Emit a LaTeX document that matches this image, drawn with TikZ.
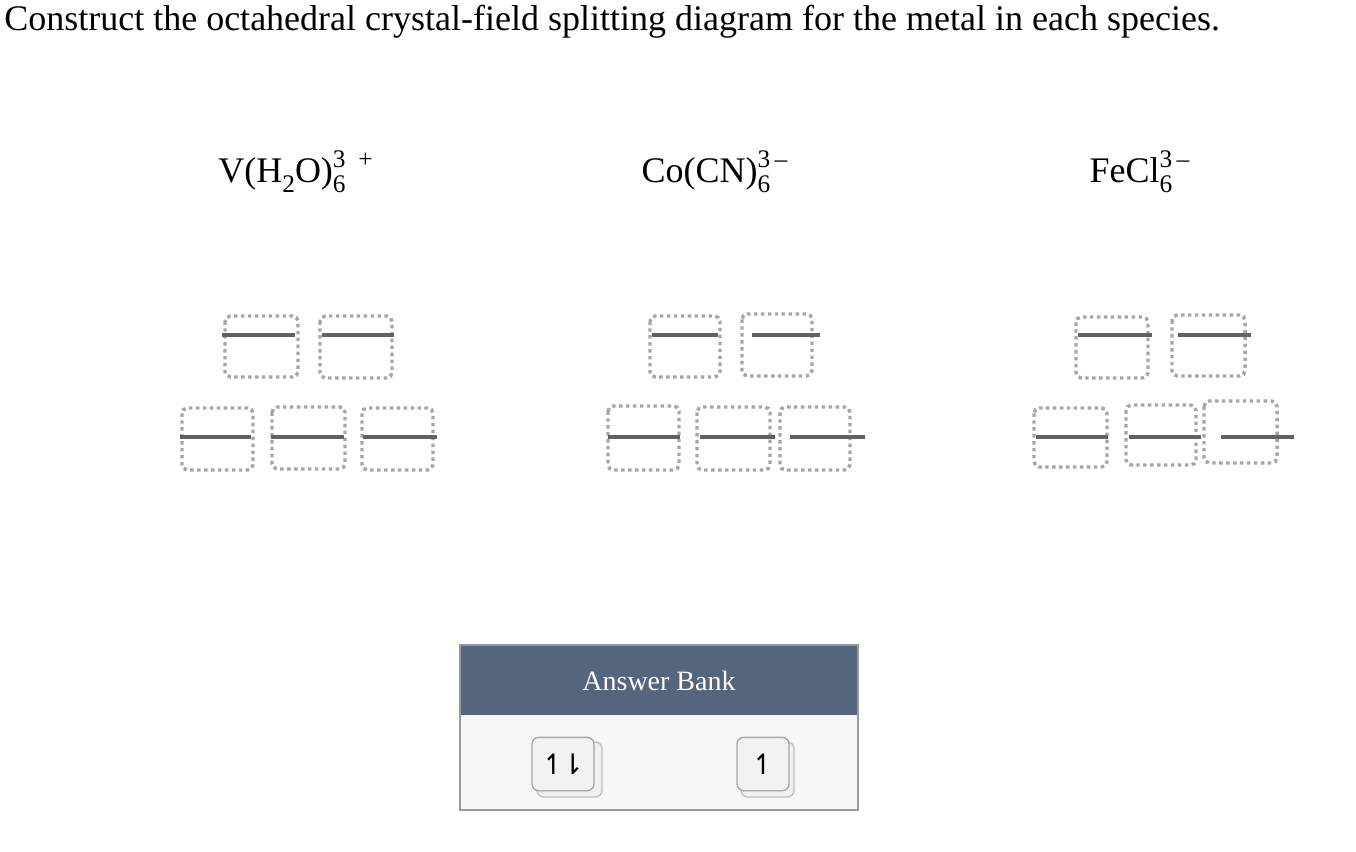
\documentclass[tikz,border=0pt]{standalone}
\usepackage{fontspec}
\setmainfont{Liberation Serif}
\newfontfamily\dejavu{DejaVu Sans}
\newcommand{\supsub}[2]{\rlap{\raisebox{0.42em}{\fontsize{19}{20}\selectfont #1}}\raisebox{-0.28em}{\fontsize{19}{20}\selectfont #2}}
\newcommand{\lowsub}[1]{\raisebox{-0.28em}{\fontsize{19}{20}\selectfont #1}}
\begin{document}
\begin{tikzpicture}[x=0.75pt,y=-0.75pt,
  slot/.style={draw=gray!70,dash pattern=on 2.6pt off 2.6pt,line width=2.6pt,rounded corners=4pt},
  lvl/.style={draw=black!62,line width=2.6pt},
  btn/.style={draw=black!35,line width=1pt,rounded corners=5pt,fill=white!95!black},
  btnsh/.style={draw=black!25,line width=1pt,rounded corners=5pt,fill=black!6}]
\useasboundingbox (0,0) rectangle (1356,852);
\node[anchor=west,inner sep=0,font=\fontsize{27}{31}\selectfont] (title) at (4,22) {Construct the octahedral crystal-field splitting diagram for the metal in each species.};
\node[font=\fontsize{27}{30}\selectfont] (f1) at (300,172) {V(H\lowsub{2}O)\supsub{3\ \ +}{6}\phantom{\ \ \ \ }};
\node[font=\fontsize{27}{30}\selectfont] (f2) at (715,172) {Co(CN)\supsub{3\,--}{6}\phantom{\ \ }};
\node[font=\fontsize{27}{30}\selectfont] (f3) at (1140,172) {FeCl\supsub{3\,--}{6}\phantom{\ \ }};
% V
\draw[slot] (225,316) rectangle (298,377); \draw[slot] (320,316) rectangle (392,378);
\draw[lvl] (222,335) -- (295,335); \draw[lvl] (322,335) -- (394,335);
\draw[slot] (182,408) rectangle (253,470); \draw[slot] (272,407) rectangle (345,469); \draw[slot] (362,408) rectangle (433,470);
\draw[lvl] (180,437) -- (251,437); \draw[lvl] (271,437) -- (344,437); \draw[lvl] (363,437) -- (437,437);
% Co
\draw[slot] (650,316) rectangle (720,377); \draw[slot] (742,314) rectangle (812,376);
\draw[lvl] (652,335) -- (718,335); \draw[lvl] (752,335) -- (820,335);
\draw[slot] (608,406) rectangle (679,470); \draw[slot] (697,407) rectangle (770,470); \draw[slot] (780,407) rectangle (850,470);
\draw[lvl] (608,437) -- (680,437); \draw[lvl] (700,437) -- (775,437); \draw[lvl] (790,437) -- (865,437);
% Fe
\draw[slot] (1076,317) rectangle (1148,378); \draw[slot] (1172,315) rectangle (1245,376);
\draw[lvl] (1078,335) -- (1152,335); \draw[lvl] (1178,335) -- (1251,335);
\draw[slot] (1034,408) rectangle (1107,467); \draw[slot] (1126,405) rectangle (1196,465); \draw[slot] (1204,401) rectangle (1277,463);
\draw[lvl] (1036,437) -- (1108,437); \draw[lvl] (1129,437) -- (1201,437); \draw[lvl] (1221,437) -- (1294,437);
% answer bank
\draw[draw=black!40,line width=1.2pt,fill=black!3] (460,645) rectangle (858,810);
\fill[fill={rgb,255:red,85;green,101;blue,126}] (461,646) rectangle (857,715);
\node[text=white,font=\fontsize{21}{24}\selectfont] (ab) at (659,681) {Answer Bank};
\draw[btnsh] (537,742) rectangle (602,797);
\node[btn,minimum width=46.5pt,minimum height=40pt,inner sep=0] (b1) at (563,764) {\dejavu\fontsize{21}{24}\selectfont ↿\kern-3pt⇂};
\draw[btnsh] (741,742) rectangle (794,797);
\node[btn,minimum width=39pt,minimum height=40pt,inner sep=0] (b2) at (763,764) {\dejavu\fontsize{21}{24}\selectfont ↿};
\end{tikzpicture}
\end{document}
